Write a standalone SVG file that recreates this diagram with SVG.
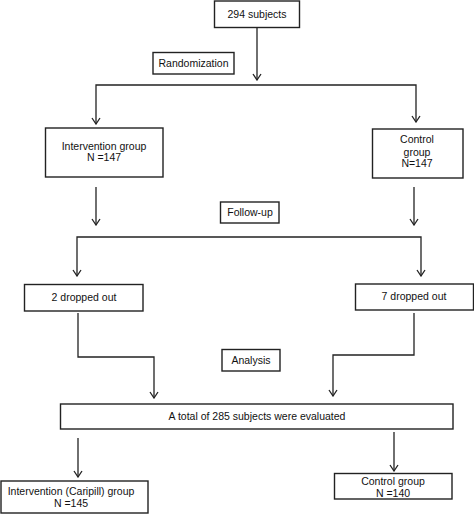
<svg xmlns="http://www.w3.org/2000/svg" width="474" height="514" viewBox="0 0 474 514">
<defs>
<style>
.box{fill:#fff;stroke:#222;stroke-width:1.4}
.t{font-family:"Liberation Sans",Arial,sans-serif;font-size:10.5px;fill:#111;text-anchor:middle}
.c{fill:none;stroke:#222;stroke-width:1.3}
</style>
<marker id="ah" viewBox="0 0 10 10" refX="9" refY="5" markerWidth="10" markerHeight="10" markerUnits="userSpaceOnUse" orient="auto-start-reverse">
<path d="M3,1 L9,5 L3,9" fill="none" stroke="#222" stroke-width="1.3"/>
</marker>
</defs>
<rect width="474" height="514" fill="#fff"/>
<g id="connectors">
<path class="c" d="M257,28 V80" marker-end="url(#ah)"/>
<path class="c" d="M96,124 V85 H416 V122" marker-start="url(#ah)" marker-end="url(#ah)"/>
<path class="c" d="M96,187 V225" marker-end="url(#ah)"/>
<path class="c" d="M414,187 V225" marker-end="url(#ah)"/>
<path class="c" d="M77,276 V237 H421 V276" marker-start="url(#ah)" marker-end="url(#ah)"/>
<path class="c" d="M78,313 V357 H154 V398" marker-end="url(#ah)"/>
<path class="c" d="M414,313 V355 H333 V396" marker-end="url(#ah)"/>
<path class="c" d="M78,438 V477" marker-end="url(#ah)"/>
<path class="c" d="M394,432 V471" marker-end="url(#ah)"/>
</g>
<g id="n294">
<rect class="box" x="214.5" y="1" width="85" height="26.5"/>
<text class="t" x="257" y="18">294 subjects</text>
</g>
<g id="randomization">
<rect class="box" x="153" y="52.5" width="81" height="21.5"/>
<text class="t" x="193.5" y="67">Randomization</text>
</g>
<g id="intervention">
<rect class="box" x="45.5" y="128" width="117.5" height="49"/>
<text class="t" x="104" y="150">Intervention group</text>
<text class="t" x="104" y="161">N =147</text>
</g>
<g id="control">
<rect class="box" x="372.5" y="129" width="90.5" height="49"/>
<text class="t" x="417" y="143">Control</text>
<text class="t" x="417" y="156">group</text>
<text class="t" x="417" y="167">N=147</text>
</g>
<g id="followup">
<rect class="box" x="220.5" y="202" width="58.5" height="21"/>
<text class="t" x="250" y="216">Follow-up</text>
</g>
<g id="drop2">
<rect class="box" x="24.5" y="284.5" width="118.5" height="26.5"/>
<text class="t" x="84" y="301">2 dropped out</text>
</g>
<g id="drop7">
<rect class="box" x="355.5" y="284" width="118" height="26"/>
<text class="t" x="414" y="300">7 dropped out</text>
</g>
<g id="analysis">
<rect class="box" x="222" y="349.5" width="58" height="21.5"/>
<text class="t" x="251" y="364">Analysis</text>
</g>
<g id="total">
<rect class="box" x="60.5" y="404" width="392.5" height="25"/>
<text class="t" x="257" y="420">A total of 285 subjects were evaluated</text>
</g>
<g id="intervention2">
<rect class="box" x="1" y="481" width="147" height="32"/>
<text class="t" x="71" y="495">Intervention (Caripill) group</text>
<text class="t" x="71" y="507">N =145</text>
</g>
<g id="control2">
<rect class="box" x="334.5" y="473.5" width="117.5" height="25.5"/>
<text class="t" x="393" y="484.5">Control group</text>
<text class="t" x="393" y="497">N =140</text>
</g>
</svg>
